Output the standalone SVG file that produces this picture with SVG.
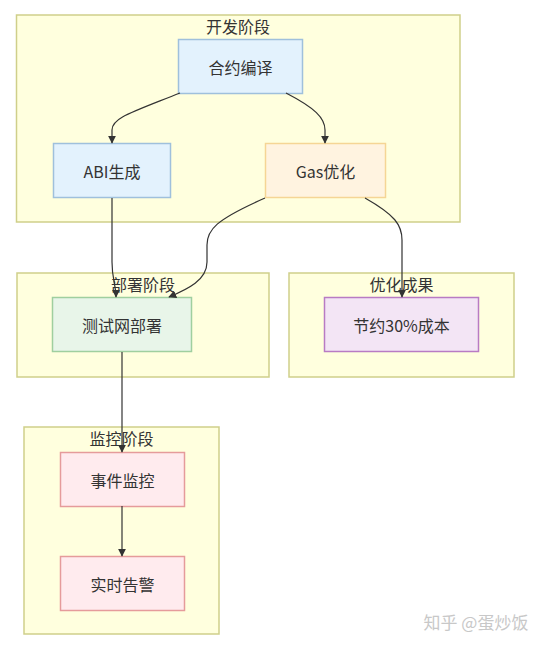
<svg xmlns="http://www.w3.org/2000/svg" width="538" height="646" viewBox="0 0 538 646">
<defs>
<marker id="arr" viewBox="0 0 10 10" refX="9" refY="5" markerWidth="8" markerHeight="8" markerUnits="userSpaceOnUse" orient="auto">
<path d="M0,0 L10,5 L0,10 z" fill="#333"/>
</marker>
<style>
.cl{fill:#ffffde;stroke:#cfcf8a;stroke-width:1.5}
.ct{font-family:"Noto Sans CJK SC","Liberation Sans",sans-serif;font-size:16px;fill:#333;text-anchor:middle}
.nt{font-family:"Noto Sans CJK SC","Liberation Sans",sans-serif;font-size:16px;fill:#333;text-anchor:middle;dominant-baseline:central}
.e{fill:none;stroke:#333;stroke-width:1.2;marker-end:url(#arr)}
</style>
</defs>
<rect width="538" height="646" fill="#fff"/>
<g id="cluster-dev"><rect class="cl" x="16.5" y="15" width="443.5" height="207"/><text class="ct" x="238" y="33">开发阶段</text></g>
<g id="cluster-deploy"><rect class="cl" x="17" y="273" width="252" height="104"/><text class="ct" x="143" y="291">部署阶段</text></g>
<g id="cluster-result"><rect class="cl" x="289" y="273" width="225" height="104"/><text class="ct" x="401.5" y="291">优化成果</text></g>
<g id="cluster-monitor"><rect class="cl" x="24" y="427" width="195" height="207"/><text class="ct" x="121.5" y="445">监控阶段</text></g>
<g id="n-compile"><rect x="178.5" y="39.5" width="124" height="54" fill="#e3f2fd" stroke="#9fc0dc" stroke-width="1.5"/><text class="nt" x="240.5" y="67">合约编译</text></g>
<g id="n-abi"><rect x="53.5" y="143.5" width="117" height="54" fill="#e3f2fd" stroke="#9fc0dc" stroke-width="1.5"/><text class="nt" x="112" y="171">ABI生成</text></g>
<g id="n-gas"><rect x="265.5" y="143.5" width="120" height="54" fill="#fff3e0" stroke="#f5d595" stroke-width="1.5"/><text class="nt" x="325.5" y="171">Gas优化</text></g>
<g id="n-test"><rect x="52.5" y="297.5" width="139" height="54" fill="#e8f5e9" stroke="#9fcf9f" stroke-width="1.5"/><text class="nt" x="122" y="325">测试网部署</text></g>
<g id="n-save"><rect x="324.5" y="297.5" width="154" height="54" fill="#f3e5f5" stroke="#b87bc4" stroke-width="1.5"/><text class="nt" x="401.5" y="325">节约30%成本</text></g>
<g id="n-event"><rect x="60.5" y="452.5" width="124" height="54" fill="#ffebee" stroke="#e59b9b" stroke-width="1.5"/><text class="nt" x="122.5" y="480">事件监控</text></g>
<g id="n-alert"><rect x="60.5" y="556.5" width="124" height="54" fill="#ffebee" stroke="#e59b9b" stroke-width="1.5"/><text class="nt" x="122.5" y="584">实时告警</text></g>
<g id="edges">
<path class="e" d="M180,93 C130,113 112,118 112,130 L112,143"/>
<path class="e" d="M286,93 C315,108 325,118 325,130 L325,143"/>
<path class="e" d="M112,198 L112,262 C112,280 116,284 116,297"/>
<path class="e" d="M265,198 C215,220 207,230 207,245 L207,262 C207,280 188,289 169,297"/>
<path class="e" d="M365,198 C395,215 402,225 402,240 L402,297"/>
<path class="e" d="M122,352 L122,452"/>
<path class="e" d="M122,506 L122,556"/>
</g>
<text x="476" y="629" font-family="Noto Sans CJK SC, sans-serif" font-size="17" fill="#c8c8c8" text-anchor="middle">知乎 @蛋炒饭</text>
</svg>
